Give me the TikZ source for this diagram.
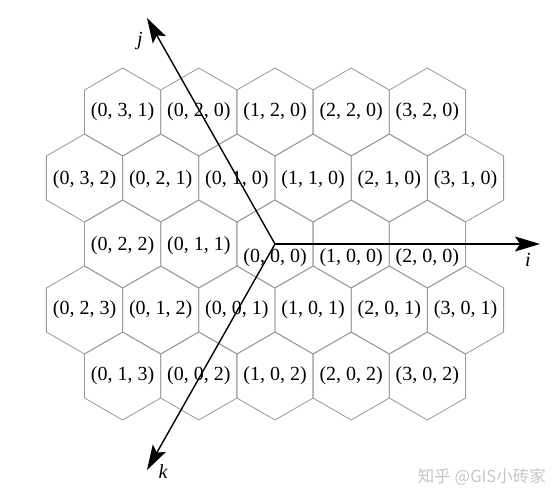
\documentclass[tikz,border=0pt]{standalone}
\usepackage{fontspec}
\setmainfont{Liberation Serif}
\newfontfamily\cjkfont{Noto Sans CJK SC}
\usetikzlibrary{shapes.geometric,arrows.meta}
\begin{document}
\begin{tikzpicture}[x=1pt,y=-1pt,
  hexcell/.style={regular polygon, regular polygon sides=6, shape border rotate=30,
    minimum size=88pt, inner sep=0pt, outer sep=0pt, draw=gray!80, line width=0.8pt},
  celllabel/.style={inner sep=0pt, font=\fontsize{20}{24}\selectfont},
  axis/.style={draw=black, line width=1.4pt, -{Stealth[length=25pt,width=15pt,inset=5pt]}},
  axlabel/.style={inner sep=0pt, font=\fontsize{20}{24}\selectfont\itshape},
  mark label/.style={inner sep=0pt, text=gray!45, font=\cjkfont\fontsize{16.5}{20}\selectfont}]
\useasboundingbox (0,0) rectangle (560,499);
\fill[white] (0,0) rectangle (560,499);
% row 1
\foreach \lab [count=\c from 0] in {{(0, 3, 1)},{(0, 2, 0)},{(1, 2, 0)},{(2, 2, 0)},{(3, 2, 0)}} {
  \node[hexcell] (h1-\c) at ({122.6+76.2*\c},112) {};
  \node[celllabel] (t1-\c) at (h1-\c.center) {\lab};
}
% row 2
\foreach \lab [count=\c from 0] in {{(0, 3, 2)},{(0, 2, 1)},{(0, 1, 0)},{(1, 1, 0)},{(2, 1, 0)},{(3, 1, 0)}} {
  \node[hexcell] (h2-\c) at ({84.5+76.2*\c},178) {};
  \node[celllabel] (t2-\c) at ([yshift=-2pt]h2-\c.center) {\lab};
}
% row 3
\foreach \lab [count=\c from 0] in {{(0, 2, 2)},{(0, 1, 1)}} {
  \node[hexcell] (h3-\c) at ({122.6+76.2*\c},244) {};
  \node[celllabel] (t3-\c) at ([yshift=-2pt]h3-\c.center) {\lab};
}
\foreach \lab [count=\c from 2] in {{(0, 0, 0)},{(1, 0, 0)},{(2, 0, 0)}} {
  \node[hexcell] (h3-\c) at ({122.6+76.2*\c},244) {};
  \node[celllabel] (t3-\c) at ([yshift=-14pt]h3-\c.center) {\lab};
}
% row 4
\foreach \lab [count=\c from 0] in {{(0, 2, 3)},{(0, 1, 2)},{(0, 0, 1)},{(1, 0, 1)},{(2, 0, 1)},{(3, 0, 1)}} {
  \node[hexcell] (h4-\c) at ({84.5+76.2*\c},310) {};
  \node[celllabel] (t4-\c) at (h4-\c.center) {\lab};
}
% row 5
\foreach \lab [count=\c from 0] in {{(0, 1, 3)},{(0, 0, 2)},{(1, 0, 2)},{(2, 0, 2)},{(3, 0, 2)}} {
  \node[hexcell] (h5-\c) at ({122.6+76.2*\c},376) {};
  \node[celllabel] (t5-\c) at (h5-\c.center) {\lab};
}
% axes
\coordinate (O) at (h3-2.center);
\coordinate (itip) at (540,244);
\coordinate (jtip) at (147,18);
\coordinate (ktip) at (147,470);
\draw[axis] (O) -- (itip);
\draw[axis] (O) -- (jtip);
\draw[axis] (O) -- (ktip);
\node[axlabel] (ilab) at (528,260) {i};
\node[axlabel] (jlab) at (140,41) {j};
\node[axlabel] (klab) at (163,472) {k};
% watermark
\node[mark label, anchor=east] (wm) at (546,477) {知乎 @GIS小砖家};
\end{tikzpicture}
\end{document}
